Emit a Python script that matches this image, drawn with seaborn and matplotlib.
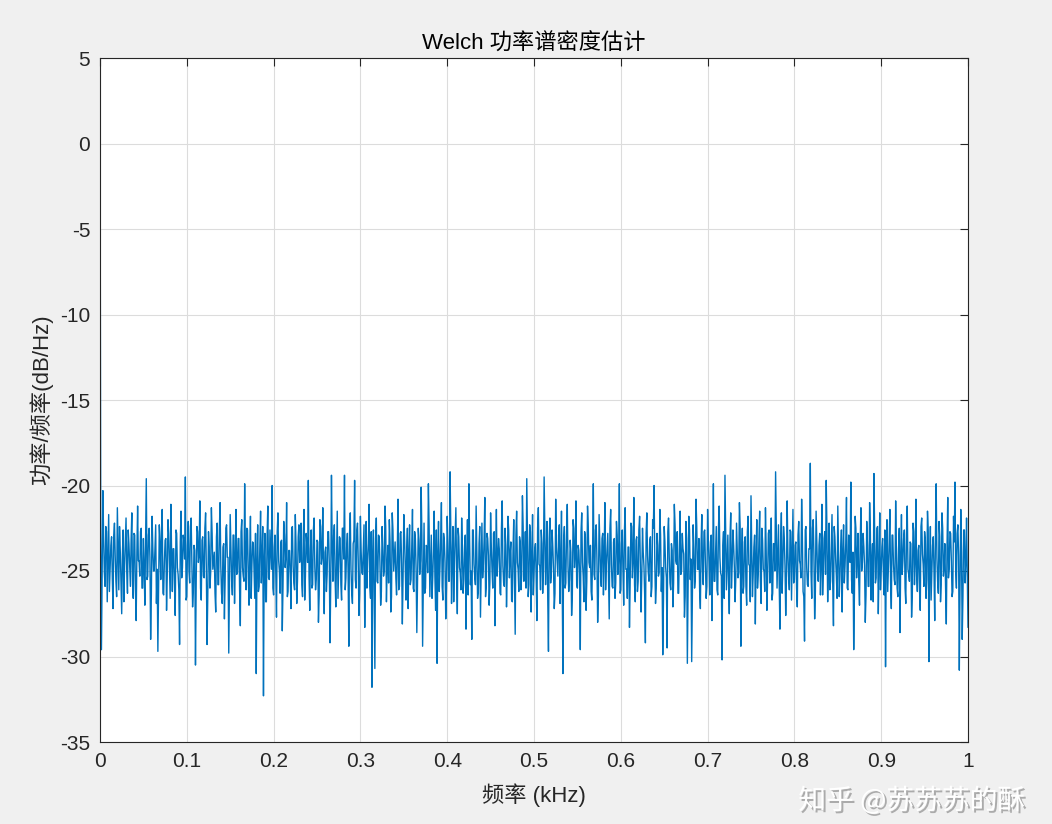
import numpy as np
import pandas as pd
import matplotlib
matplotlib.use("Agg")
import matplotlib.pyplot as plt
import matplotlib.patheffects as pe
import seaborn as sns

# ---- data ----
freq_start_khz = 0.0
freq_stop_khz = 1.0
# PSD values on the even frequency bins (these carry the visible spikes)
psd_even_bins = [
    3.0, -29.6, -20.3, -25.1, -22.4, -26.8, -21.7, -24.9, -23.0, -27.2, -22.2, -25.6, -21.3, -26.1, -23.8, -27.5, -22.6, -24.7, -21.9, -26.3,
    -23.4, -25.9, -21.6, -26.6, -22.9, -27.9, -21.2, -24.4, -22.7, -26.0, -23.1, -27.0, -19.6, -25.3, -22.5, -29.0, -21.8, -25.0, -23.6, -26.9,
    -29.7, -22.3, -25.5, -21.4, -26.4, -23.2, -27.3, -22.0, -24.6, -21.1, -26.2, -23.7, -27.6, -22.8, -25.2, -29.3, -21.5, -24.8, -23.3, -19.5,
    -26.5, -22.1, -25.7, -21.9, -27.1, -23.5, -30.5, -22.4, -24.5, -20.9, -26.7, -23.0, -25.4, -21.6, -29.3, -22.7, -26.0, -21.3, -24.9, -23.9,
    -27.4, -22.2, -25.8, -21.0, -26.3, -23.6, -27.8, -22.5, -24.2, -29.8, -21.7, -25.6, -22.9, -26.9, -21.4, -25.1, -23.1, -28.2, -22.0, -25.3,
    -19.9, -26.1, -22.6, -27.0, -21.8, -24.7, -23.4, -26.6, -31.0, -22.3, -25.9, -21.5, -24.3, -32.3, -22.8, -26.8, -21.2, -25.5, -23.7, -20.0,
    -26.4, -22.9, -27.7, -21.6, -25.0, -23.3, -28.5, -22.1, -24.8, -21.0, -26.2, -23.8, -27.2, -22.4, -25.7, -21.7, -26.9, -23.0, -24.5, -22.2,
    -26.5, -21.4, -25.3, -23.5, -19.7, -27.3, -22.6, -25.8, -21.9, -26.1, -23.2, -28.0, -22.0, -24.6, -21.3, -27.5, -23.6, -25.2, -22.7, -29.2,
    -19.4, -25.6, -22.3, -27.1, -21.5, -24.9, -23.1, -26.7, -22.5, -19.4, -25.4, -22.8, -29.4, -21.6, -26.3, -23.4, -19.7, -26.0, -22.2, -27.6,
    -21.8, -25.1, -23.7, -28.3, -22.1, -24.4, -21.1, -26.6, -31.8, -22.6, -30.7, -21.9, -25.7, -23.0, -27.0, -22.4, -25.3, -21.2, -26.8, -23.5,
    -22.0, -27.4, -21.6, -25.0, -23.3, -26.4, -20.8, -25.9, -22.7, -28.1, -21.7, -24.7, -23.8, -27.2, -22.3, -25.5, -21.4, -26.2, -23.1, -28.6,
    -22.5, -25.2, -20.1, -29.4, -22.2, -26.0, -23.6, -19.9, -26.5, -22.9, -25.4, -21.5, -27.3, -30.4, -22.1, -24.8, -21.0, -26.7, -23.2, -27.8,
    -21.8, -25.6, -19.2, -26.9, -22.4, -24.5, -21.3, -27.5, -23.0, -25.1, -21.9, -26.3, -23.5, -28.4, -22.0, -19.9, -25.8, -29.0, -22.6, -25.3,
    -21.2, -26.6, -23.4, -27.7, -22.2, -24.6, -20.7, -25.9, -23.1, -27.0, -21.6, -25.0, -22.8, -28.2, -21.4, -24.3, -23.7, -26.4, -20.9, -25.7,
    -22.5, -27.1, -21.8, -25.4, -23.3, -26.8, -22.0, -28.7, -21.5, -24.9, -23.0, -26.1, -20.6, -25.6, -22.7, -19.6, -26.5, -22.3, -27.4, -21.7,
    -25.2, -23.4, -27.9, -21.3, -24.7, -22.6, -26.3, -19.5, -25.8, -22.1, -29.7, -21.9, -25.1, -23.6, -27.2, -20.8, -24.4, -22.9, -26.9, -21.5,
    -31.0, -22.4, -25.7, -21.1, -26.2, -23.2, -27.6, -22.0, -24.8, -20.9, -26.0, -23.8, -29.6, -21.6, -25.3, -22.7, -27.3, -21.2, -24.5, -23.5,
    -26.7, -19.9, -25.5, -22.3, -28.0, -21.7, -25.0, -23.1, -26.4, -21.0, -24.6, -22.8, -27.8, -21.4, -25.9, -23.3, -26.6, -22.1, -25.2, -19.9,
    -26.1, -22.6, -27.0, -21.3, -24.9, -23.6, -28.3, -22.2, -25.4, -20.7, -26.8, -23.0, -25.6, -21.8, -27.4, -22.5, -24.7, -29.2, -21.6, -25.1,
    -23.2, -26.5, -22.0, -20.0, -26.9, -22.8, -25.3, -21.4, -26.2, -29.9, -22.4, -24.8, -29.5, -21.9, -25.7, -23.4, -27.1, -21.1, -24.4, -22.7,
    -26.3, -21.5, -25.0, -23.7, -27.7, -22.1, -30.4, -21.8, -25.5, -30.3, -22.3, -26.0, -20.8, -24.9, -23.1, -27.2, -21.7, -25.8, -22.6, -26.6,
    -21.4, -24.5, -23.3, -27.9, -19.9, -25.6, -22.4, -26.4, -21.2, -25.1, -30.2, -22.7, -19.4, -26.1, -22.9, -27.5, -21.6, -24.6, -23.5, -26.8,
    -22.2, -25.4, -21.0, -29.4, -22.5, -25.9, -23.0, -27.0, -21.8, -24.7, -20.6, -26.5, -23.6, -28.1, -22.0, -25.2, -21.5, -26.9, -23.2, -25.0,
    -21.3, -27.3, -22.8, -25.7, -21.9, -26.3, -23.4, -19.2, -26.0, -22.3, -28.4, -21.6, -24.8, -23.1, -27.6, -20.9, -25.3, -22.6, -26.7, -21.4,
    -25.5, -23.3, -27.1, -22.1, -24.6, -20.8, -26.2, -29.1, -22.4, -25.8, -23.7, -18.7, -26.6, -22.0, -27.8, -21.5, -25.1, -23.5, -26.4, -21.1,
    -24.9, -22.7, -19.7, -26.8, -22.2, -25.6, -21.7, -28.2, -23.0, -25.3, -21.2, -26.5, -23.8, -27.4, -22.3, -24.7, -20.7, -26.1, -23.2, -19.8,
    -26.3, -29.6, -21.8, -25.4, -22.8, -27.0, -21.3, -24.5, -23.6, -28.0, -22.1, -25.9, -21.0, -26.7, -23.4, -19.3, -25.7, -22.5, -27.5, -21.6,
    -25.0, -23.1, -26.4, -30.6, -22.0, -24.8, -21.4, -27.2, -22.9, -25.5, -20.9, -26.0, -23.7, -28.6, -21.7, -24.4, -22.6, -26.9, -21.2, -25.2,
    -23.3, -27.7, -22.2, -25.8, -20.8, -26.2, -23.5, -27.3, -21.9, -24.6, -22.7, -26.6, -21.5, -30.3, -22.4, -25.1, -23.0, -27.9, -19.9, -25.6,
    -22.1, -26.8, -21.6, -25.3, -23.4, -28.1, -20.7, -24.9, -22.8, -26.5, -21.8, -19.8, -26.0, -22.3, -30.8, -21.4, -29.0, -22.6, -25.7, -21.9,
    -28.3,
]
# PSD values on the odd frequency bins (the dense core of the noise band)
psd_odd_bins = [
    -22.5, -24.8, -23.1, -25.9, -22.7, -24.3, -26.2, -23.5, -25.4, -22.9, -24.1, -26.5, -23.8, -22.4, -25.6, -24.0, -26.8, -23.3, -25.1, -22.6,
    -24.6, -23.2, -25.8, -22.8, -26.1, -23.9, -24.4, -25.3, -22.5, -26.0, -24.7, -23.0, -25.5, -22.9, -24.2, -26.4, -23.6, -25.0, -22.3, -24.9,
    -25.7, -23.4, -22.7, -26.3, -24.5, -23.1, -25.2, -22.8, -26.6, -24.0, -23.7, -25.9, -22.6, -24.8, -26.1, -23.3, -25.4, -22.9, -24.3, -26.7,
    -23.5, -25.0, -22.4, -24.6, -26.2, -23.8, -25.6, -22.7, -24.1, -26.0, -23.2, -25.3, -22.5, -24.9, -26.5, -23.6, -25.1, -22.8, -24.4, -26.3,
    -23.0, -25.8, -22.6, -24.7, -26.9, -23.4, -25.5, -22.3, -24.2, -25.9, -23.7, -26.4, -22.9, -24.5, -25.2, -23.1, -26.1, -22.7, -24.8, -25.6,
    -23.9, -22.5, -25.3, -24.0, -26.6, -23.3, -25.0, -22.8, -24.6, -26.2, -23.5, -25.7, -22.4, -24.3, -26.8, -23.0, -25.4, -22.6, -24.9, -26.0,
    -23.6, -25.1, -22.7, -24.4, -26.3, -23.2, -25.9, -22.9, -24.1, -26.5, -23.8, -25.2, -22.5, -24.7, -26.1, -23.4, -25.6, -22.3, -24.0, -25.8,
    -23.1, -26.7, -22.8, -24.5, -25.3, -23.7, -26.0, -22.6, -24.8, -25.5, -23.3, -26.4, -22.4, -24.2, -25.0, -23.9, -26.2, -22.7, -24.6, -25.7,
    -23.5, -22.9, -25.4, -24.1, -26.6, -23.0, -25.8, -22.5, -24.3, -26.1, -23.6, -25.1, -22.8, -24.9, -26.9, -23.2, -25.5, -22.6, -24.4, -26.3,
    -23.8, -25.2, -22.3, -24.7, -26.0, -23.4, -25.9, -22.7, -24.0, -26.4, -23.1, -25.6, -22.9, -24.5, -26.2, -23.7, -25.0, -22.4, -24.8, -25.7,
    -23.3, -26.5, -22.6, -24.2, -25.4, -23.9, -26.1, -22.8, -24.6, -25.3, -23.0, -26.7, -22.5, -24.1, -25.8, -23.6, -26.0, -22.7, -24.9, -25.5,
    -23.2, -24.4, -22.9, -25.7, -26.3, -23.5, -25.1, -22.4, -24.7, -26.6, -23.8, -25.3, -22.6, -24.0, -26.2, -23.1, -25.9, -22.8, -24.5, -26.0,
    -23.4, -25.6, -22.7, -24.3, -26.8, -23.0, -25.2, -22.5, -24.8, -26.1, -23.7, -25.5, -22.9, -24.2, -26.4, -23.3, -25.0, -22.6, -24.6, -25.8,
    -23.9, -26.2, -22.4, -24.9, -25.4, -23.2, -26.5, -22.8, -24.1, -25.7, -23.6, -26.0, -22.7, -24.4, -25.3, -23.1, -26.3, -22.5, -24.7, -25.9,
    -23.5, -25.1, -22.6, -24.0, -26.7, -23.8, -25.6, -22.9, -24.5, -26.2, -23.3, -25.2, -22.4, -24.8, -26.0, -23.0, -25.8, -22.7, -24.3, -26.4,
    -23.7, -25.4, -22.5, -24.6, -26.1, -23.4, -25.0, -22.8, -24.2, -26.6, -23.1, -25.7, -22.6, -24.9, -26.3, -23.6, -25.3, -22.3, -24.4, -25.9,
    -23.2, -26.0, -22.9, -24.7, -25.5, -23.9, -26.4, -22.5, -24.1, -25.8, -23.5, -25.1, -22.7, -24.5, -26.8, -23.0, -25.6, -22.4, -24.8, -26.2,
    -23.8, -25.2, -22.6, -24.3, -26.5, -23.3, -25.9, -22.8, -24.0, -26.1, -23.7, -25.4, -22.5, -24.6, -26.0, -23.1, -25.7, -22.9, -24.2, -26.3,
    -23.4, -25.0, -22.7, -24.9, -26.6, -23.6, -25.5, -22.4, -24.4, -25.8, -23.2, -26.2, -22.6, -24.7, -25.3, -23.9, -26.4, -22.8, -24.1, -25.6,
    -23.0, -25.9, -22.5, -24.5, -26.0, -23.5, -25.1, -22.9, -24.8, -26.7, -23.3, -25.4, -22.7, -24.2, -26.1, -23.8, -25.7, -22.3, -24.6, -26.3,
    -23.6, -25.2, -22.8, -24.0, -26.5, -23.1, -25.8, -22.6, -24.3, -26.0, -23.7, -25.5, -22.4, -24.9, -26.2, -23.4, -25.0, -22.7, -24.5, -25.9,
    -23.2, -26.4, -22.9, -24.7, -25.6, -23.9, -26.1, -22.5, -24.2, -25.3, -23.5, -26.6, -22.8, -24.4, -25.7, -23.0, -26.0, -22.6, -24.8, -25.4,
    -23.7, -25.1, -22.4, -24.1, -26.3, -23.3, -25.9, -22.7, -24.6, -26.8, -23.6, -25.2, -22.9, -24.3, -26.0, -23.1, -25.6, -22.5, -24.9, -26.2,
    -23.8, -25.3, -22.6, -24.5, -26.7, -23.4, -25.0, -22.8, -24.0, -25.8, -23.2, -26.3, -22.4, -24.7, -25.5, -23.9, -26.1, -22.7, -24.2, -25.7,
    -23.5, -26.0, -22.9, -24.4, -25.4, -23.0, -26.5, -22.6, -24.8, -25.9, -23.7, -25.1, -22.5, -24.1, -26.2, -23.3, -25.6, -22.8, -24.6, -26.4,
    -23.1, -25.2, -22.7, -24.9, -26.1, -23.6, -25.8, -22.4, -24.3, -26.6, -23.8, -25.3, -22.6, -24.0, -25.7, -23.4, -26.0, -22.9, -24.5, -25.5,
    -23.9, -26.3, -22.5, -24.2, -25.6, -23.2, -25.0, -22.8, -24.7, -26.4, -23.5, -25.9, -22.7, -24.4, -26.8, -23.0, -25.4, -22.4, -24.8, -26.1,
    -23.6, -25.1, -22.6, -24.1, -26.2, -23.3, -25.7, -22.9, -24.6, -25.8, -23.7, -26.5, -22.5, -24.3, -25.2, -23.1, -26.0, -22.8, -24.9, -25.6,
    -23.4, -26.4, -22.7, -24.5, -25.3, -23.8, -26.1, -22.4, -24.0, -25.9, -23.2, -25.5, -22.6, -24.7, -26.7, -23.5, -25.0, -22.9, -24.2, -26.3,
    -23.0, -25.8, -22.5, -24.8, -26.0, -23.6, -25.4, -22.7, -24.4, -26.2, -23.3, -25.1, -22.8, -24.1, -25.7, -23.9, -26.5, -22.6, -24.6, -25.3,
]
title_text = "Welch 功率谱密度估计"
xlabel_text = "频率 (kHz)"
ylabel_text = "功率/频率(dB/Hz)"
x_ticks = [0, 0.1, 0.2, 0.3, 0.4, 0.5, 0.6, 0.7, 0.8, 0.9, 1]
x_tick_labels = ["0", "0.1", "0.2", "0.3", "0.4", "0.5", "0.6", "0.7", "0.8", "0.9", "1"]
y_ticks = [-35, -30, -25, -20, -15, -10, -5, 0, 5]
watermark = "知乎 @苏苏苏的酥"

n_bins = len(psd_even_bins) + len(psd_odd_bins)
psd_db = np.empty(n_bins)
psd_db[0::2] = psd_even_bins
psd_db[1::2] = psd_odd_bins
freq = np.linspace(freq_start_khz, freq_stop_khz, n_bins)
df = pd.DataFrame({"freq": freq, "psd": psd_db})

# ---- style ----
sns.set_theme(style="white")
fam = ["Liberation Sans", "Noto Sans CJK SC", "DejaVu Sans"]
plt.rcParams["font.family"] = fam
plt.rcParams["axes.unicode_minus"] = False

fig = plt.figure(figsize=(10.52, 8.24), dpi=100, facecolor="#f0f0f0")
ax = fig.add_axes([100 / 1052, 1 - 742 / 824, 868 / 1052, 684 / 824])
ax.set_facecolor("white")

sns.lineplot(data=df, x="freq", y="psd", ax=ax, color="#0072BD",
             linewidth=1.0, estimator=None, sort=False, errorbar=None)

ax.set_xlim(0, 1)
ax.set_ylim(-35, 5)
ax.set_xticks(x_ticks)
ax.set_xticklabels(x_tick_labels)
ax.set_yticks(y_ticks)
ax.set_yticklabels([str(v) for v in y_ticks])

ax.grid(True, color="#dcdcdc", linewidth=0.8)
ax.set_axisbelow(True)
for s in ax.spines.values():
    s.set_visible(True)
    s.set_color("#262626")
    s.set_linewidth(0.8)
ax.tick_params(axis="both", direction="in", length=6, width=0.8, color="#262626",
               top=True, right=True, labelsize=15, labelcolor="#262626", pad=7)

ax.set_title(title_text, fontsize=16, color="black", pad=6, family=fam)
ax.set_xlabel(xlabel_text, fontsize=16, color="#262626", labelpad=9, family=fam)
ax.set_ylabel(ylabel_text, fontsize=16, color="#262626", labelpad=5, family=fam)

fig.text(1025 / 1052, 1 - 801 / 824, watermark, ha="right", va="center",
         fontsize=20, color="white", family=["Noto Sans CJK SC", "DejaVu Sans"],
         path_effects=[pe.withSimplePatchShadow(offset=(1.5, -1.5), shadow_rgbFace="#9a9a9a", alpha=0.8)])

fig.savefig("out.png", dpi=100, facecolor=fig.get_facecolor())
